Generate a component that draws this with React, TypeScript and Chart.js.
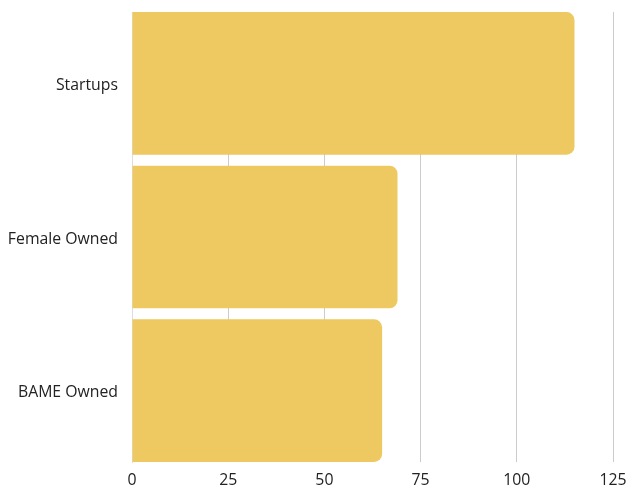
import React, { useEffect, useRef } from "react";
import { Chart, registerables } from "chart.js";

Chart.register(...registerables);

const categories = ["Startups", "Female Owned", "BAME Owned"];
const values = [115, 69, 65];
const xTicks = [0, 25, 50, 75, 100, 125];

const BAR_GAP = 11;
const BAR_FRACTION = 0.928;

// Spread bars so that they touch the top and bottom of the plot area with a fixed gap between them
const flushBars = {
  id: "flushBars",
  afterLayout(chart: any) {
    const y = chart.scales.y;
    const n = categories.length;
    const H = y.bottom - y.top;
    const s = (H + BAR_GAP) / n;
    const bar = s - BAR_GAP;
    y._startValue = -(bar / 2) / s;
    y._valueRange = H / s;
  },
};

export default function App() {
  const ref = useRef<HTMLCanvasElement | null>(null);
  useEffect(() => {
    if (!ref.current) return;
    const chart = new Chart(ref.current, {
      type: "bar",
      data: {
        labels: categories,
        datasets: [
          {
            data: values,
            backgroundColor: "#EEC961",
            borderRadius: 8,
            borderSkipped: "start",
            barPercentage: BAR_FRACTION,
            categoryPercentage: 1,
          },
        ],
      },
      plugins: [flushBars],
      options: {
        indexAxis: "y",
        animation: false,
        responsive: true,
        maintainAspectRatio: false,
        layout: { padding: { top: 12, left: 0, right: 0, bottom: 0 } },
        plugins: { legend: { display: false }, tooltip: { enabled: false } },
        scales: {
          x: {
            min: 0,
            max: 125,
            afterBuildTicks: (axis: any) => {
              axis.ticks = xTicks.map((v) => ({ value: v }));
            },
            afterFit: (axis: any) => {
              axis.height = 26;
              axis.paddingRight = 14;
            },
            grid: { color: "#cccccc", drawTicks: false, lineWidth: 1 },
            border: { display: false },
            ticks: {
              padding: 9,
              color: "#222222",
              font: { family: "'Open Sans'", size: 15.8 },
            },
          },
          y: {
            afterFit: (axis: any) => {
              axis.width = 132;
              axis.paddingTop = 0;
              axis.paddingBottom = 0;
            },
            grid: { display: false, drawTicks: false },
            border: { display: true, color: "#dddddd" },
            ticks: {
              padding: 14,
              labelOffset: 2,
              color: "#222222",
              font: { family: "'Open Sans'", size: 15.8 },
            },
          },
        },
      },
    });
    return () => chart.destroy();
  }, []);
  return (
    <div style={{ position: "absolute", left: 0, top: 0, width: 627, height: 488 }}>
      <canvas ref={ref} />
    </div>
  );
}
